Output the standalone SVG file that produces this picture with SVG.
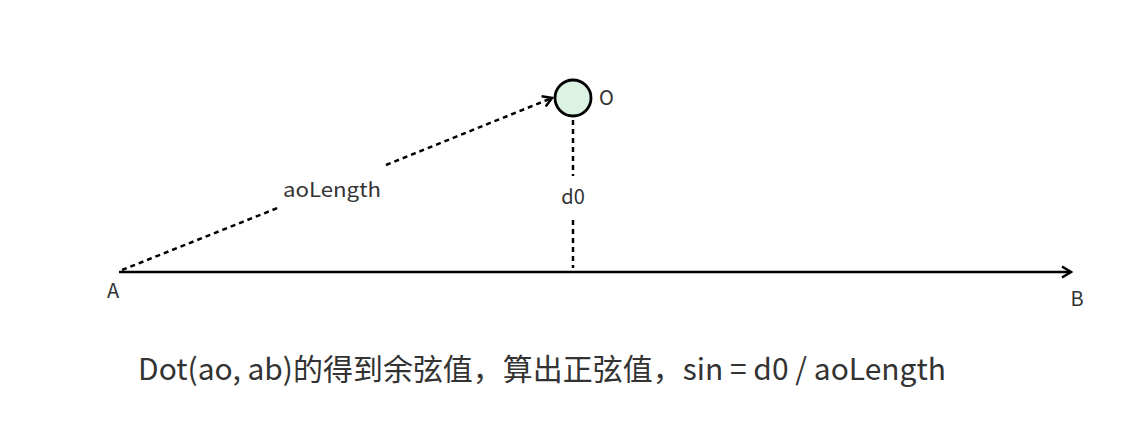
<svg xmlns="http://www.w3.org/2000/svg" width="1139" height="440" viewBox="0 0 1139 440">
<defs>
<style>
.lbl{font-family:"Noto Sans CJK SC","Noto Sans",sans-serif;font-size:20px;fill:#333333;}
.cap{font-family:"Noto Sans CJK SC","Noto Sans",sans-serif;font-size:30px;fill:#333333;}
.dash{fill:none;stroke:#000;stroke-width:2.5;stroke-dasharray:5 4;}
.solid{fill:none;stroke:#000;stroke-width:2.5;}
</style>
<marker id="open" viewBox="0 0 14 14" refX="12" refY="7" markerWidth="14" markerHeight="14" markerUnits="userSpaceOnUse" orient="auto">
<path d="M3,1.5 L12,7 L3,12.5" fill="none" stroke="#000" stroke-width="2.5"/>
</marker>
</defs>
<rect width="1139" height="440" fill="#ffffff"/>
<g id="connectors">
<path class="solid" d="M119,272 L1071,272" marker-end="url(#open)"/>
<path class="dash" d="M122,270 L280,207"/>
<path class="dash" d="M386,165 L552,98" marker-end="url(#open)"/>
<path class="dash" d="M573,120 L573,176"/>
<path class="dash" d="M573,220 L573,268"/>
</g>
<g id="node-O">
<circle cx="573" cy="98" r="18" fill="#dcf2e3" stroke="#000" stroke-width="2.8"/>
<text class="lbl" x="599" y="105">O</text>
</g>
<g id="label-A"><text class="lbl" x="113" y="298" text-anchor="middle">A</text></g>
<g id="label-B"><text class="lbl" x="1077" y="306" text-anchor="middle">B</text></g>
<g id="label-aoLength"><text class="lbl" x="332" y="197" text-anchor="middle" textLength="98" lengthAdjust="spacingAndGlyphs">aoLength</text></g>
<g id="label-d0"><text class="lbl" x="573" y="204" text-anchor="middle">d0</text></g>
<g id="caption"><text class="cap" x="138" y="380" textLength="808" lengthAdjust="spacingAndGlyphs">Dot(ao, ab)的得到余弦值，算出正弦值，sin = d0 / aoLength</text></g>
</svg>
